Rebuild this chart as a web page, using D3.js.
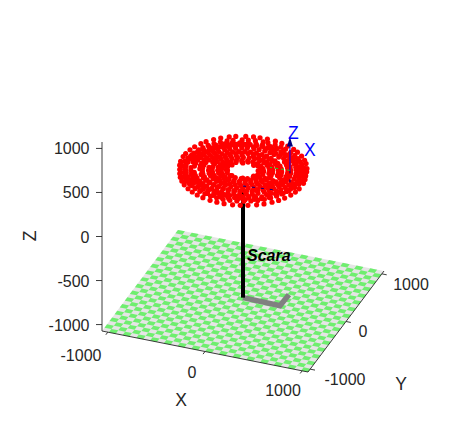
<!DOCTYPE html>
<html>
<head>
<meta charset="utf-8">
<script src="https://cdn.jsdelivr.net/npm/d3@7"></script>
<style>
html, body { margin: 0; padding: 0; background: #fff; }
text { font-family: "Liberation Sans", Arial, sans-serif; }
</style>
</head>
<body>
<svg id="chart" width="468" height="424"></svg>
<script>
const xTicks = [-1000, 0, 1000];
const yTicks = [-1000, 0, 1000];
const zTicks = [-1000, -500, 0, 500, 1000];
const floorEdges = d3.range(0, 31).map(i => -1060 + i * 2120 / 30);

// arm of the robot, world coordinates
const poleLink = [[0, 0, -1035], [0, 0, 233]];
const baseLink = [[0, 0, -1035], [385, -12, -1035], [391, 222, -1035]];
const armBits = [[[0, 0, 233], [313, 43, 233]], [[420, 171, 410], [420, 171, 233]]];
const frameOrigin = [420, 171, 410];
const frameTip = [420, 171, 715];
const frameHead = [420, 171, 790];
const frameSide = [221, 153, 410];

// workspace cloud: radius, height, ring centre x and y, then the bearing in degrees of each dot seen on that ring
const cloudRings = [
  [615, 440, 4, -3, [2, 8, 15, 21, 30, 36, 44, 52, 58, 66, 73, 80, 88, 95, 101, 108, 117, 123, 131, 138, 146, 152, 160, 167, 175, 181, 190, 197, 205, 211, 219, 226, 233, 241, 248, 256, 262, 270, 277, 285, 292, 300, 307, 314, 322, 329, 336, 344, 351, 357]],
  [608, 365, -4, 3, [5, 12, 19, 27, 33, 41, 48, 55, 62, 70, 77, 84, 92, 98, 105, 113, 120, 127, 135, 142, 149, 156, 164, 171, 178, 186, 193, 201, 208, 215, 222, 230, 237, 244, 251, 259, 266, 273, 281, 288, 295, 303, 310, 318, 325, 332, 340, 347, 354]],
  [565, 425, 8, 5, [1, 9, 14, 23, 28, 37, 43, 50, 57, 65, 71, 78, 86, 91, 99, 106, 112, 121, 127, 134, 141, 148, 155, 161, 169, 176, 183, 189, 197, 204, 210, 218, 225, 231, 239, 246, 252, 260, 266, 274, 281, 287, 295, 302, 308, 316, 323, 329, 337, 344, 351]],
  [556, 385, -8, -4, [4, 11, 18, 26, 34, 40, 47, 54, 61, 68, 75, 83, 89, 96, 103, 110, 117, 124, 131, 139, 145, 152, 159, 166, 173, 180, 187, 194, 201, 208, 215, 222, 229, 236, 243, 250, 257, 264, 271, 278, 285, 292, 299, 306, 313, 320, 327, 334, 341, 348, 355]],
  [510, 415, 9, -8, [3, 10, 16, 24, 29, 37, 44, 49, 57, 63, 76, 83, 90, 96, 103, 109, 116, 123, 129, 136, 142, 150, 156, 163, 169, 176, 183, 196, 202, 210, 216, 223, 229, 236, 242, 249, 256, 262, 269, 275, 283, 289, 296, 302, 316, 322, 329, 335, 342, 349, 355]],
  [468, 405, -9, 8, [0, 8, 15, 22, 30, 38, 45, 52, 60, 67, 74, 82, 97, 104, 111, 119, 126, 133, 141, 148, 155, 163, 170, 177, 185, 192, 207, 214, 221, 229, 236, 243, 251, 258, 265, 273, 280, 287, 295, 302, 309, 317, 324, 331, 339, 346, 353]],
  [425, 412, 6, 9, [4, 12, 19, 28, 35, 43, 58, 67, 74, 82, 90, 97, 106, 113, 121, 129, 136, 145, 152, 160, 168, 175, 184, 191, 199, 214, 223, 230, 238, 246, 253, 262, 269, 277, 285, 292, 301, 308, 316, 324, 331, 340, 347, 355]],
  [383, 404, -7, -9, [2, 11, 20, 28, 37, 46, 54, 63, 72, 80, 89, 98, 106, 115, 124, 132, 141, 150, 158, 167, 176, 184, 193, 202, 210, 219, 228, 236, 245, 254, 262, 271, 280, 288, 297, 306, 314, 323, 332, 340, 349]],
  [338, 412, 8, -6, [6, 16, 25, 35, 45, 55, 64, 74, 84, 94, 103, 113, 123, 133, 142, 152, 162, 172, 191, 201, 211, 220, 230, 240, 250, 259, 269, 279, 289, 298, 308, 318, 328, 337, 347]],
  [293, 405, -8, 6, [1, 12, 23, 34, 45, 56, 67, 78, 89, 111, 122, 133, 144, 155, 166, 177, 188, 199, 210, 221, 232, 243, 254, 265, 276, 287, 298, 309, 320, 331, 342, 353]],
  [250, 410, 5, 5, [7, 20, 33, 46, 59, 72, 85, 98, 111, 124, 137, 150, 163, 176, 189, 202, 215, 228, 241, 254, 267, 280, 293, 306, 319, 332, 345]],
  [205, 406, -4, -4, [3, 19, 34, 50, 65, 81, 96, 112, 127, 143, 158, 174, 189, 205, 220, 236, 251, 267, 282, 298, 313, 329, 344]],
  [165, 412, 3, 2, [10, 31, 52, 73, 94, 115, 136, 157, 178, 199, 220, 241, 262, 283, 304, 325, 346]],
  [148, 408, -2, 0, [20, 65, 110, 155, 200, 245, 290, 335]]
];
const cloudPoints = cloudRings.flatMap(([r, z, cx, cy, angles]) =>
  angles.map(a => [cx + r * Math.cos(a * Math.PI / 180), cy + r * Math.sin(a * Math.PI / 180), z]));

const xScale = d3.scaleLinear().domain([-1060, 1060]).range([0, 1]);
const yScale = d3.scaleLinear().domain([-1060, 1060]).range([0, 1]);
const zScale = d3.scaleLinear().domain([-1073, 1073]).range([331, 142]);

// orthographic view, the corner (-1060, -1060) is at screen x 102
const project = ([x, y, z]) => {
  const u = xScale(x), v = yScale(y);
  return [102 + u * 206 + v * 76, zScale(z) + u * 41 - v * 101];
};
const line = d3.line();
const path3 = pts => line(pts.map(project));

const svg = d3.select('#chart');

// floor
const zFloor = -1073;
const tiles = [];
floorEdges.slice(0, -1).forEach((x0, i) => {
  floorEdges.slice(0, -1).forEach((y0, j) => {
    const x1 = floorEdges[i + 1], y1 = floorEdges[j + 1];
    if ((i + j) % 2) tiles.push([[x0, y0, zFloor], [x1, y0, zFloor], [x1, y1, zFloor], [x0, y1, zFloor]]);
  });
});
svg.append('path')
  .attr('d', path3([[-1060, -1060, zFloor], [1060, -1060, zFloor], [1060, 1060, zFloor], [-1060, 1060, zFloor]]) + 'Z')
  .attr('fill', '#e5e5e5');
svg.append('g').selectAll('path').data(tiles).join('path')
  .attr('d', d => path3(d) + 'Z')
  .attr('fill', '#6fee6f');

// axes
const axisColor = '#262626';
const axes = svg.append('g').attr('stroke', axisColor).attr('stroke-width', 0.9).attr('fill', 'none');
axes.append('path').attr('d', path3([[-1060, -1060, 1073], [-1060, -1060, zFloor]]));
axes.append('path').attr('d', path3([[-1060, -1060, zFloor], [1060, -1060, zFloor], [1060, 1060, zFloor]]));
zTicks.forEach(t => {
  const [px, py] = project([-1060, -1060, t]);
  axes.append('path').attr('d', `M${px},${py}h-6`);
});
xTicks.forEach(t => {
  axes.append('path').attr('d', path3([[t, -1060, zFloor], [t, -1115, zFloor]]));
});
yTicks.forEach(t => {
  axes.append('path').attr('d', path3([[1060, t, zFloor], [1110, t, zFloor]]));
});

const labels = svg.append('g').attr('fill', axisColor).attr('font-size', 16);
zTicks.forEach(t => {
  const [px, py] = project([-1060, -1060, t]);
  labels.append('text').attr('x', px - 12.5).attr('y', py + 6).attr('text-anchor', 'end').text(t);
});
const xLabelPos = [[81, 361], [192, 378], [283, 396]];
xTicks.forEach((t, i) => {
  labels.append('text').attr('x', xLabelPos[i][0]).attr('y', xLabelPos[i][1]).attr('text-anchor', 'middle').text(t);
});
const yLabelPos = [[345, 385], [363, 337], [411, 290]];
yTicks.forEach((t, i) => {
  labels.append('text').attr('x', yLabelPos[i][0]).attr('y', yLabelPos[i][1]).attr('text-anchor', 'middle').text(t);
});
labels.append('text').attr('x', 181).attr('y', 406).attr('text-anchor', 'middle').attr('font-size', 17.5).text('X');
labels.append('text').attr('x', 401).attr('y', 390).attr('text-anchor', 'middle').attr('font-size', 17.5).text('Y');
labels.append('text').attr('transform', 'translate(36,236) rotate(-90)').attr('text-anchor', 'middle').attr('font-size', 17.5).text('Z');

// robot
svg.append('path').attr('d', path3(baseLink)).attr('fill', 'none')
  .attr('stroke', '#808080').attr('stroke-width', 5.5).attr('stroke-linejoin', 'miter');
svg.append('path').attr('d', path3(poleLink)).attr('fill', 'none')
  .attr('stroke', '#000').attr('stroke-width', 4);

// cloud
svg.append('g').selectAll('circle').data(cloudPoints).join('circle')
  .attr('cx', d => project(d)[0])
  .attr('cy', d => project(d)[1])
  .attr('r', 2.6)
  .attr('fill', '#ff0000');

// pieces of the arm showing through the cloud
svg.append('g').selectAll('path').data(armBits).join('path')
  .attr('d', path3)
  .attr('fill', 'none')
  .attr('stroke', '#00008b')
  .attr('stroke-width', 1)
  .attr('stroke-dasharray', '3 6');
svg.append('path').attr('d', path3([frameOrigin, frameSide]))
  .attr('stroke', '#22cc22').attr('stroke-width', 1).attr('stroke-dasharray', '3 3').attr('fill', 'none');

// end frame
svg.append('path').attr('d', path3([frameOrigin, frameTip]))
  .attr('stroke', '#0000ff').attr('stroke-width', 1).attr('fill', 'none');
const tip = project(frameTip), head = project(frameHead);
svg.append('path')
  .attr('d', `M${head[0]},${head[1]}L${tip[0] - 3},${tip[1] + 3}L${tip[0] + 3},${tip[1] + 3}Z`)
  .attr('fill', '#00007a');
svg.append('text').attr('x', 288).attr('y', 139).attr('fill', '#0000ff').attr('font-size', 17.5).text('Z');
svg.append('text').attr('x', 304).attr('y', 156).attr('fill', '#0000ff').attr('font-size', 17.5).text('X');

svg.append('text').attr('x', 247).attr('y', 261).attr('fill', '#000')
  .attr('font-size', 16).attr('font-weight', 'bold').attr('font-style', 'italic').text('Scara');
</script>
</body>
</html>
